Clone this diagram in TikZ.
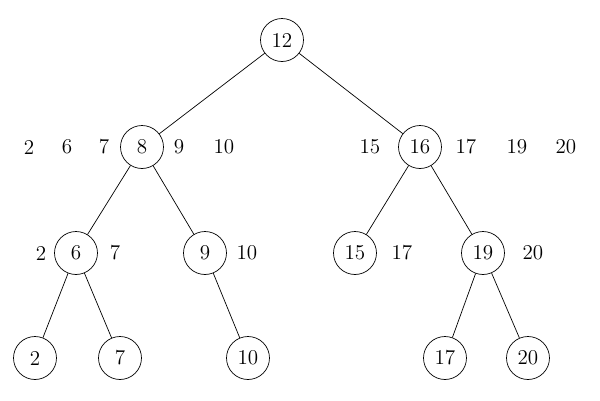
\documentclass[tikz,border=0pt]{standalone}
\begin{document}
\begin{tikzpicture}[x=0.02cm,y=-0.02cm,
  vtx/.style={circle,draw,minimum size=0.86cm,inner sep=0pt,font=\large},
  lbl/.style={font=\large,inner sep=0pt}]
\useasboundingbox (0,0) rectangle (600,400);
\node[vtx] (n12) at (282,40) {12};
\node[vtx] (n8) at (142,147) {8};
\node[vtx] (n16) at (420,147) {16};
\node[vtx] (n6) at (76,253) {6};
\node[vtx] (n9) at (205,253) {9};
\node[vtx] (n15) at (355,253) {15};
\node[vtx] (n19) at (483,253) {19};
\node[vtx] (n2) at (35,358) {2};
\node[vtx] (n7) at (120,358) {7};
\node[vtx] (n10) at (248,358) {10};
\node[vtx] (n17) at (445,358) {17};
\node[vtx] (n20) at (528,358) {20};
\draw (n12)--(n8); \draw (n12)--(n16);
\draw (n8)--(n6); \draw (n8)--(n9);
\draw (n16)--(n15); \draw (n16)--(n19);
\draw (n6)--(n2); \draw (n6)--(n7);
\draw (n9)--(n10);
\draw (n19)--(n17); \draw (n19)--(n20);
\node[lbl] (a1) at (29,147) {2};
\node[lbl] (a2) at (67,147) {6};
\node[lbl] (a3) at (104,147) {7};
\node[lbl] (a4) at (179,147) {9};
\node[lbl] (a5) at (224,147) {10};
\node[lbl] (a6) at (370,147) {15};
\node[lbl] (a7) at (466,147) {17};
\node[lbl] (a8) at (517,147) {19};
\node[lbl] (a9) at (566,147) {20};
\node[lbl] (b1) at (41,253) {2};
\node[lbl] (b2) at (115,253) {7};
\node[lbl] (b3) at (247,253) {10};
\node[lbl] (b4) at (402,253) {17};
\node[lbl] (b5) at (533,253) {20};
\end{tikzpicture}
\end{document}
